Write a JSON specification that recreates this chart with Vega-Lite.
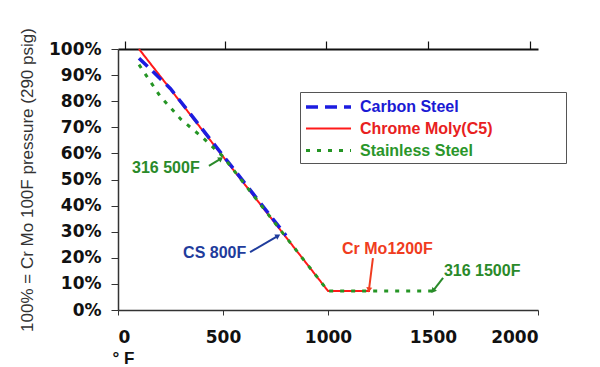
{
  "$schema": "https://vega.github.io/schema/vega-lite/v6.json",
  "width": 420,
  "height": 261,
  "autosize": {"type": "none"},
  "padding": {"left": 118, "top": 49, "right": 62, "bottom": 57},
  "background": "white",
  "config": {"view": {"stroke": null}, "axis": {"grid": false}},
  "datasets": {
    "curves": [
      {"series": "Chrome Moly(C5)", "temp": 100, "pct": 1.0},
      {"series": "Chrome Moly(C5)", "temp": 1000, "pct": 0.073},
      {"series": "Chrome Moly(C5)", "temp": 1200, "pct": 0.073},
      {"series": "Carbon Steel", "temp": 100, "pct": 0.965},
      {"series": "Carbon Steel", "temp": 250, "pct": 0.848},
      {"series": "Carbon Steel", "temp": 800, "pct": 0.285},
      {"series": "Stainless Steel", "temp": 100, "pct": 0.94},
      {"series": "Stainless Steel", "temp": 200, "pct": 0.82},
      {"series": "Stainless Steel", "temp": 300, "pct": 0.73},
      {"series": "Stainless Steel", "temp": 400, "pct": 0.663},
      {"series": "Stainless Steel", "temp": 500, "pct": 0.588},
      {"series": "Stainless Steel", "temp": 1000, "pct": 0.073},
      {"series": "Stainless Steel", "temp": 1500, "pct": 0.073}
    ],
    "notes": [
      {"label": "316 500F", "series": "Stainless Steel", "temp": 67, "pct": 0.544},
      {"label": "CS 800F", "series": "Carbon Steel", "temp": 310, "pct": 0.218},
      {"label": "Cr Mo1200F", "series": "Chrome Moly(C5)", "temp": 1067, "pct": 0.234},
      {"label": "316 1500F", "series": "Stainless Steel", "temp": 1552, "pct": 0.149}
    ],
    "arrows": [
      {"series": "Stainless Steel", "temp": 433, "pct": 0.552, "temp2": 490, "pct2": 0.58, "dir": 56},
      {"series": "Carbon Steel", "temp": 629, "pct": 0.222, "temp2": 762, "pct2": 0.284, "dir": 60},
      {"series": "Chrome Moly(C5)", "temp": 1214, "pct": 0.199, "temp2": 1195, "pct2": 0.077, "dir": 187},
      {"series": "Stainless Steel", "temp": 1548, "pct": 0.123, "temp2": 1500, "pct2": 0.073, "dir": 218}
    ]
  },
  "resolve": {"axis": {"x": "independent", "y": "independent"}},
  "layer": [
    {
      "data": {"name": "curves"},
      "mark": {"type": "line", "strokeCap": "butt"},
      "encoding": {
        "x": {
          "field": "temp", "type": "quantitative",
          "scale": {"domain": [0, 2000]},
          "axis": {
            "values": [0, 500, 1000, 1500, 2000], "format": ".0f",
            "labelFont": "DejaVu Sans", "labelFontWeight": "bold", "labelFontSize": 17,
            "labelColor": "#111", "tickSize": 5, "labelPadding": 14,
            "domainColor": "#333", "tickColor": "#333", "domainWidth": 1.5,
            "title": "° F", "titleFont": "Liberation Sans", "titleFontWeight": "bold",
            "titleFontSize": 17, "titleColor": "#111", "titleAnchor": "start", "titleAlign": "left",
            "titleX": -6, "titleY": 48, "titleBaseline": "middle"
          }
        },
        "y": {
          "field": "pct", "type": "quantitative",
          "scale": {"domain": [0, 1]},
          "axis": {
            "format": ".0%",
            "values": [0, 0.1, 0.2, 0.3, 0.4, 0.5, 0.6, 0.7, 0.8, 0.9, 1],
            "labelFont": "DejaVu Sans", "labelFontWeight": "bold", "labelFontSize": 17,
            "labelColor": "#111", "tickSize": 7, "labelPadding": 10,
            "domainColor": "#333", "tickColor": "#333", "domainWidth": 1.5,
            "title": "100% = Cr Mo 100F pressure (290 psig)",
            "titleFont": "Liberation Sans", "titleFontWeight": "normal", "titleFontSize": 17,
            "titleColor": "#333", "titlePadding": 12
          }
        },
        "color": {
          "field": "series", "type": "nominal",
          "scale": {"domain": ["Carbon Steel", "Chrome Moly(C5)", "Stainless Steel"], "range": ["#1c1ce0", "#ff1a1a", "#259525"]},
          "legend": {
            "title": "\u00a0", "titleOrient": "right", "titlePadding": 70, "titleFontSize": 4,
            "orient": "none", "legendX": 182, "legendY": 43,
            "symbolType": "M-1,0H4", "symbolSize": 324, "symbolStrokeWidth": 2.5,
            "labelFont": "Liberation Sans", "labelFontWeight": "bold", "labelFontSize": 16,
            "labelOffset": 34, "rowPadding": 3.5, "padding": 4, "labelLimit": 300,
            "strokeColor": "#555", "fillColor": "white",
            "encode": {"labels": {"update": {"fill": {"signal": "datum.value === 'Carbon Steel' ? '#1a1ad4' : datum.value === 'Stainless Steel' ? '#2a962a' : '#e82020'"}}}}
          }
        },
        "strokeDash": {
          "field": "series", "type": "nominal",
          "scale": {"domain": ["Carbon Steel", "Chrome Moly(C5)", "Stainless Steel"], "range": [[12, 7], [1, 0], [4, 7]]},
          "legend": {
            "title": "\u00a0", "titleOrient": "right", "titlePadding": 70, "titleFontSize": 4,
            "orient": "none", "legendX": 182, "legendY": 43,
            "symbolType": "M-1,0H4", "symbolSize": 324, "symbolStrokeWidth": 2.5,
            "labelFont": "Liberation Sans", "labelFontWeight": "bold", "labelFontSize": 16,
            "labelOffset": 34, "rowPadding": 3.5, "padding": 4, "labelLimit": 300,
            "strokeColor": "#555", "fillColor": "white",
            "encode": {"labels": {"update": {"fill": {"signal": "datum.value === 'Carbon Steel' ? '#1a1ad4' : datum.value === 'Stainless Steel' ? '#2a962a' : '#e82020'"}}}}
          }
        },
        "strokeWidth": {
          "field": "series", "type": "nominal",
          "scale": {"type": "ordinal", "domain": ["Carbon Steel", "Chrome Moly(C5)", "Stainless Steel"], "range": [3.5, 2, 3]},
          "legend": null
        }
      }
    },
    {
      "data": {"name": "notes"},
      "mark": {"type": "text", "align": "left", "baseline": "middle", "font": "Liberation Sans", "fontWeight": "bold", "fontSize": 16},
      "encoding": {
        "x": {"field": "temp", "type": "quantitative", "axis": null},
        "y": {"field": "pct", "type": "quantitative", "axis": null},
        "text": {"field": "label"},
        "fill": {
          "field": "series", "type": "nominal",
          "scale": {"domain": ["Carbon Steel", "Chrome Moly(C5)", "Stainless Steel"], "range": ["#1f3c9c", "#f03c20", "#2a8a2a"]},
          "legend": null
        }
      }
    },
    {
      "data": {"name": "arrows"},
      "mark": {"type": "rule", "strokeWidth": 2},
      "encoding": {
        "x": {
          "field": "temp", "type": "quantitative",
          "axis": {
            "orient": "top", "values": [33, 510, 990, 1476, 1962], "labels": false,
            "tickSize": 8, "tickColor": "#111", "tickWidth": 1.2,
            "domainColor": "#111", "domainWidth": 2, "title": null
          }
        },
        "x2": {"field": "temp2"},
        "y": {"field": "pct", "type": "quantitative", "axis": null},
        "y2": {"field": "pct2"},
        "stroke": {
          "field": "series", "type": "nominal",
          "scale": {"domain": ["Carbon Steel", "Chrome Moly(C5)", "Stainless Steel"], "range": ["#1f3c9c", "#f03c20", "#2a8a2a"]},
          "legend": null
        }
      }
    },
    {
      "data": {"name": "arrows"},
      "mark": {"type": "point", "shape": "triangle-up", "filled": true, "size": 35, "opacity": 1},
      "encoding": {
        "x": {"field": "temp2", "type": "quantitative", "axis": null},
        "y": {"field": "pct2", "type": "quantitative", "axis": null},
        "angle": {"field": "dir", "type": "quantitative", "scale": null},
        "fill": {
          "field": "series", "type": "nominal",
          "scale": {"domain": ["Carbon Steel", "Chrome Moly(C5)", "Stainless Steel"], "range": ["#1f3c9c", "#f03c20", "#2a8a2a"]},
          "legend": null
        }
      }
    }
  ]
}
